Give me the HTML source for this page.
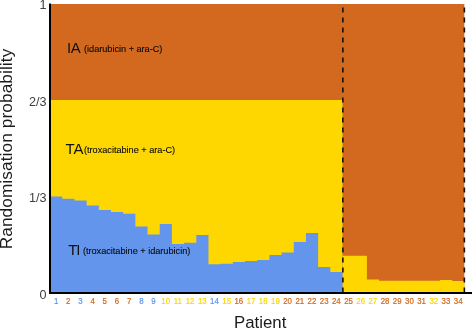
<!DOCTYPE html>
<html><head><meta charset="utf-8"><title>Randomisation probability</title>
<style>html,body{margin:0;padding:0;background:#fff}svg{display:block}text{font-family:"Liberation Sans",Arial,sans-serif}</style></head><body>
<svg width="472" height="328" viewBox="0 0 472 328">
<rect width="472" height="328" fill="#fff"/>
<rect x="50" y="4" width="414.36" height="288.5" fill="#D2691E"/>
<rect x="50" y="100" width="292.51" height="192.5" fill="#FFD700"/>
<path d="M342.51 292.5 L342.51 255.7 L354.69 255.7 L354.69 255.7 L366.88 255.7 L366.88 279.6 L379.06 279.6 L379.06 280.7 L391.25 280.7 L391.25 280.7 L403.44 280.7 L403.44 280.7 L415.62 280.7 L415.62 280.7 L427.81 280.7 L427.81 280.7 L439.99 280.7 L439.99 280 L452.18 280 L452.18 281 L464.36 281 L464.36 292.5 Z" fill="#FFD700"/>
<path d="M50 292.5 L50.00 196.5 L62.26 196.5 L62.26 198.8 L74.44 198.8 L74.44 200.4 L86.62 200.4 L86.62 205.5 L98.81 205.5 L98.81 210 L111.00 210 L111.00 212 L123.18 212 L123.18 213.75 L135.37 213.75 L135.37 226.5 L147.55 226.5 L147.55 234.5 L159.74 234.5 L159.74 224 L171.92 224 L171.92 244 L184.10 244 L184.10 242.7 L196.29 242.7 L196.29 235 L208.47 235 L208.47 264.25 L220.66 264.25 L220.66 263.75 L232.84 263.75 L232.84 262 L245.03 262 L245.03 261 L257.22 261 L257.22 260 L269.40 260 L269.40 255 L281.59 255 L281.59 252.5 L293.77 252.5 L293.77 242 L305.96 242 L305.96 233 L318.14 233 L318.14 267 L330.32 267 L330.32 272 L342.51 272 L342.51 292.5 Z" fill="#6495ED"/>
<line x1="342.86" y1="7.5" x2="342.86" y2="293" stroke="#111" stroke-width="1.6" stroke-dasharray="5 5"/>
<line x1="464.36" y1="7.5" x2="464.36" y2="293" stroke="#111" stroke-width="1.6" stroke-dasharray="5 5"/>
<rect x="49" y="3.5" width="2" height="290.5" fill="#000"/>
<rect x="49" y="292" width="423" height="2" fill="#000"/>
<text x="46.4" y="8.6" font-size="12.6" text-anchor="end" fill="#404040">1</text>
<text x="46.4" y="105.7" font-size="12.6" text-anchor="end" fill="#404040">2/3</text>
<text x="46.4" y="202.0" font-size="12.6" text-anchor="end" fill="#404040">1/3</text>
<text x="46.4" y="298.5" font-size="12.6" text-anchor="end" fill="#404040">0</text>
<text transform="translate(56.06 304.2) scale(0.81 1)" font-size="9.7" text-anchor="middle" fill="#6495ED" stroke="#6495ED" stroke-width="0.25">1</text>
<text transform="translate(68.25 304.2) scale(0.81 1)" font-size="9.7" text-anchor="middle" fill="#D2691E" stroke="#D2691E" stroke-width="0.25">2</text>
<text transform="translate(80.43 304.2) scale(0.81 1)" font-size="9.7" text-anchor="middle" fill="#6495ED" stroke="#6495ED" stroke-width="0.25">3</text>
<text transform="translate(92.62 304.2) scale(0.81 1)" font-size="9.7" text-anchor="middle" fill="#D2691E" stroke="#D2691E" stroke-width="0.25">4</text>
<text transform="translate(104.80 304.2) scale(0.81 1)" font-size="9.7" text-anchor="middle" fill="#D2691E" stroke="#D2691E" stroke-width="0.25">5</text>
<text transform="translate(116.99 304.2) scale(0.81 1)" font-size="9.7" text-anchor="middle" fill="#D2691E" stroke="#D2691E" stroke-width="0.25">6</text>
<text transform="translate(129.17 304.2) scale(0.81 1)" font-size="9.7" text-anchor="middle" fill="#D2691E" stroke="#D2691E" stroke-width="0.25">7</text>
<text transform="translate(141.36 304.2) scale(0.81 1)" font-size="9.7" text-anchor="middle" fill="#6495ED" stroke="#6495ED" stroke-width="0.25">8</text>
<text transform="translate(153.54 304.2) scale(0.81 1)" font-size="9.7" text-anchor="middle" fill="#6495ED" stroke="#6495ED" stroke-width="0.25">9</text>
<text transform="translate(165.73 304.2) scale(0.81 1)" font-size="9.7" text-anchor="middle" fill="#FFD700" stroke="#FFD700" stroke-width="0.25">10</text>
<text transform="translate(177.91 304.2) scale(0.81 1)" font-size="9.7" text-anchor="middle" fill="#FFD700" stroke="#FFD700" stroke-width="0.25">11</text>
<text transform="translate(190.10 304.2) scale(0.81 1)" font-size="9.7" text-anchor="middle" fill="#FFD700" stroke="#FFD700" stroke-width="0.25">12</text>
<text transform="translate(202.28 304.2) scale(0.81 1)" font-size="9.7" text-anchor="middle" fill="#FFD700" stroke="#FFD700" stroke-width="0.25">13</text>
<text transform="translate(214.47 304.2) scale(0.81 1)" font-size="9.7" text-anchor="middle" fill="#6495ED" stroke="#6495ED" stroke-width="0.25">14</text>
<text transform="translate(226.65 304.2) scale(0.81 1)" font-size="9.7" text-anchor="middle" fill="#FFD700" stroke="#FFD700" stroke-width="0.25">15</text>
<text transform="translate(238.84 304.2) scale(0.81 1)" font-size="9.7" text-anchor="middle" fill="#D2691E" stroke="#D2691E" stroke-width="0.25">16</text>
<text transform="translate(251.02 304.2) scale(0.81 1)" font-size="9.7" text-anchor="middle" fill="#FFD700" stroke="#FFD700" stroke-width="0.25">17</text>
<text transform="translate(263.21 304.2) scale(0.81 1)" font-size="9.7" text-anchor="middle" fill="#FFD700" stroke="#FFD700" stroke-width="0.25">18</text>
<text transform="translate(275.39 304.2) scale(0.81 1)" font-size="9.7" text-anchor="middle" fill="#FFD700" stroke="#FFD700" stroke-width="0.25">19</text>
<text transform="translate(287.58 304.2) scale(0.81 1)" font-size="9.7" text-anchor="middle" fill="#D2691E" stroke="#D2691E" stroke-width="0.25">20</text>
<text transform="translate(299.76 304.2) scale(0.81 1)" font-size="9.7" text-anchor="middle" fill="#D2691E" stroke="#D2691E" stroke-width="0.25">21</text>
<text transform="translate(311.95 304.2) scale(0.81 1)" font-size="9.7" text-anchor="middle" fill="#D2691E" stroke="#D2691E" stroke-width="0.25">22</text>
<text transform="translate(324.13 304.2) scale(0.81 1)" font-size="9.7" text-anchor="middle" fill="#D2691E" stroke="#D2691E" stroke-width="0.25">23</text>
<text transform="translate(336.32 304.2) scale(0.81 1)" font-size="9.7" text-anchor="middle" fill="#D2691E" stroke="#D2691E" stroke-width="0.25">24</text>
<text transform="translate(348.50 304.2) scale(0.81 1)" font-size="9.7" text-anchor="middle" fill="#D2691E" stroke="#D2691E" stroke-width="0.25">25</text>
<text transform="translate(360.69 304.2) scale(0.81 1)" font-size="9.7" text-anchor="middle" fill="#FFD700" stroke="#FFD700" stroke-width="0.25">26</text>
<text transform="translate(372.87 304.2) scale(0.81 1)" font-size="9.7" text-anchor="middle" fill="#FFD700" stroke="#FFD700" stroke-width="0.25">27</text>
<text transform="translate(385.06 304.2) scale(0.81 1)" font-size="9.7" text-anchor="middle" fill="#D2691E" stroke="#D2691E" stroke-width="0.25">28</text>
<text transform="translate(397.24 304.2) scale(0.81 1)" font-size="9.7" text-anchor="middle" fill="#D2691E" stroke="#D2691E" stroke-width="0.25">29</text>
<text transform="translate(409.43 304.2) scale(0.81 1)" font-size="9.7" text-anchor="middle" fill="#D2691E" stroke="#D2691E" stroke-width="0.25">30</text>
<text transform="translate(421.61 304.2) scale(0.81 1)" font-size="9.7" text-anchor="middle" fill="#D2691E" stroke="#D2691E" stroke-width="0.25">31</text>
<text transform="translate(433.80 304.2) scale(0.81 1)" font-size="9.7" text-anchor="middle" fill="#FFD700" stroke="#FFD700" stroke-width="0.25">32</text>
<text transform="translate(445.98 304.2) scale(0.81 1)" font-size="9.7" text-anchor="middle" fill="#D2691E" stroke="#D2691E" stroke-width="0.25">33</text>
<text transform="translate(458.17 304.2) scale(0.81 1)" font-size="9.7" text-anchor="middle" fill="#D2691E" stroke="#D2691E" stroke-width="0.25">34</text>
<text transform="translate(11.6 249.3) rotate(-90)" font-size="17.2" textLength="200.6" lengthAdjust="spacing" fill="#1a1a1a" id="yt">Randomisation probability</text>
<text x="234.1" y="327.5" font-size="16.8" fill="#1a1a1a" id="xt">Patient</text>
<text x="67.1" y="52.5" font-size="15" letter-spacing="-0.4" fill="#111">IA</text>
<text x="84" y="51.8" font-size="9.2" textLength="78.4" lengthAdjust="spacing" fill="#0a0a0a" stroke="#0a0a0a" stroke-width="0.1">(idarubicin + ara-C)</text>
<text x="65.5" y="154.3" font-size="15" letter-spacing="0" fill="#111">TA</text>
<text x="84" y="153.1" font-size="9.2" textLength="91.1" lengthAdjust="spacing" fill="#0a0a0a" stroke="#0a0a0a" stroke-width="0.1">(troxacitabine + ara-C)</text>
<text x="68.2" y="255.3" font-size="15" letter-spacing="-1.2" fill="#111">TI</text>
<text x="82.9" y="254.4" font-size="9.2" textLength="107.4" lengthAdjust="spacing" fill="#0a0a0a" stroke="#0a0a0a" stroke-width="0.1">(troxacitabine + idarubicin)</text>
</svg></body></html>
